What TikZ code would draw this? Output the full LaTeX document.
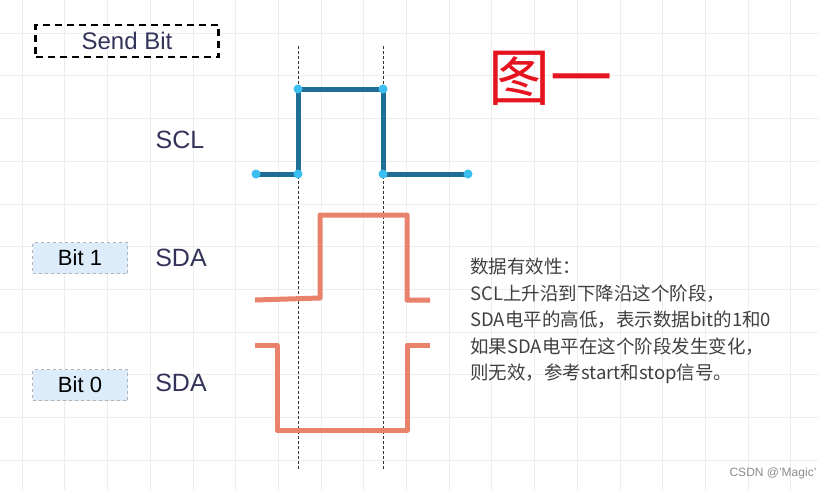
\documentclass[tikz,border=0pt]{standalone}
\usepackage{fontspec}
\setmainfont{Liberation Sans}
\newfontfamily\cjk{Noto Sans CJK SC}
\begin{document}
\begin{tikzpicture}[x=1pt,y=-1pt,
  lab/.style={font=\fontsize{25}{25}\selectfont, text=black!75!blue!60!gray},
  bitbox/.style={draw=gray!60, dashed, fill={rgb,255:red,220;green,236;blue,250}, minimum width=95pt, minimum height=31pt, font=\fontsize{22}{22}\selectfont, text=black},
  scl/.style={draw={rgb,255:red,31;green,110;blue,150}, line width=5pt, line join=round},
  sda/.style={draw={rgb,255:red,232;green,130;blue,106}, line width=5pt, line join=round},
  dot/.style={circle, fill={rgb,255:red,60;green,190;blue,240}, inner sep=0pt, minimum size=9pt},
  guide/.style={densely dashed, line width=0.8pt, black!80}]
\fill[white] (0,0) rectangle (818,490);
\useasboundingbox (0,0) rectangle (818,490);
\foreach \i in {0,...,19} \draw[black!7, line width=0.6pt] (22+42.7*\i,0) -- (22+42.7*\i,490);
\foreach \i in {0,...,11} \draw[black!7, line width=0.6pt] (0,33+42.7*\i) -- (818,33+42.7*\i);
\node[draw, dashed, line width=2.5pt, dash pattern=on 7pt off 5pt, minimum width=183pt, minimum height=32pt, font=\fontsize{24}{24}\selectfont, text=black!75!blue!60!gray] (send) at (127,41) {Send Bit};
\node[text={rgb,255:red,230;green,20;blue,30}, font=\cjk\fontsize{62}{62}\selectfont] (fig) at (550,78) {图一};
\coordinate (g1t) at (298,46); \coordinate (g1b) at (298,470);
\coordinate (g2t) at (383,46); \coordinate (g2b) at (383,470);
\draw[guide] (g1t) -- (g1b);
\draw[guide] (g2t) -- (g2b);
\node[lab] (scllab) at (180,140) {SCL};
\coordinate (s1) at (256,174); \coordinate (s2) at (298,174); \coordinate (s3) at (298,89);
\coordinate (s4) at (383,89); \coordinate (s5) at (383,174); \coordinate (s6) at (468,174);
\draw[scl] (s1) -- (s2) -- (s3) -- (s4) -- (s5) -- (s6);
\foreach \p in {s1,s2,s3,s4,s5,s6} \node[dot] at (\p) {};
\node[bitbox] (b1) at (80,258) {Bit 1};
\node[lab] (sda1) at (181,258) {SDA};
\coordinate (a1) at (255,300); \coordinate (a2) at (320,298); \coordinate (a3) at (320,215);
\coordinate (a4) at (407,215); \coordinate (a5) at (407,300); \coordinate (a6) at (430,300);
\draw[sda] (a1) -- (a2) -- (a3) -- (a4) -- (a5) -- (a6);
\node[bitbox] (b0) at (80,385) {Bit 0};
\node[lab] (sda0) at (181,383) {SDA};
\coordinate (c1) at (255,345); \coordinate (c2) at (277,345); \coordinate (c3) at (277,430);
\coordinate (c4) at (407,430); \coordinate (c5) at (407,345); \coordinate (c6) at (430,345);
\draw[sda] (c1) -- (c2) -- (c3) -- (c4) -- (c5) -- (c6);
\node[anchor=north west, align=left, text=black!75, font=\cjk\fontsize{18.5}{26.5}\selectfont, inner sep=0pt] (note) at (470,258)
 {数据有效性：\\SCL上升沿到下降沿这个阶段，\\SDA电平的高低，表示数据bit的1和0\\如果SDA电平在这个阶段发生变化，\\则无效，参考start和stop信号。};
\node[text=black!45, font=\fontsize{12}{12}\selectfont] (wm) at (773,473) {CSDN @'Magic'};
\end{tikzpicture}
\end{document}
